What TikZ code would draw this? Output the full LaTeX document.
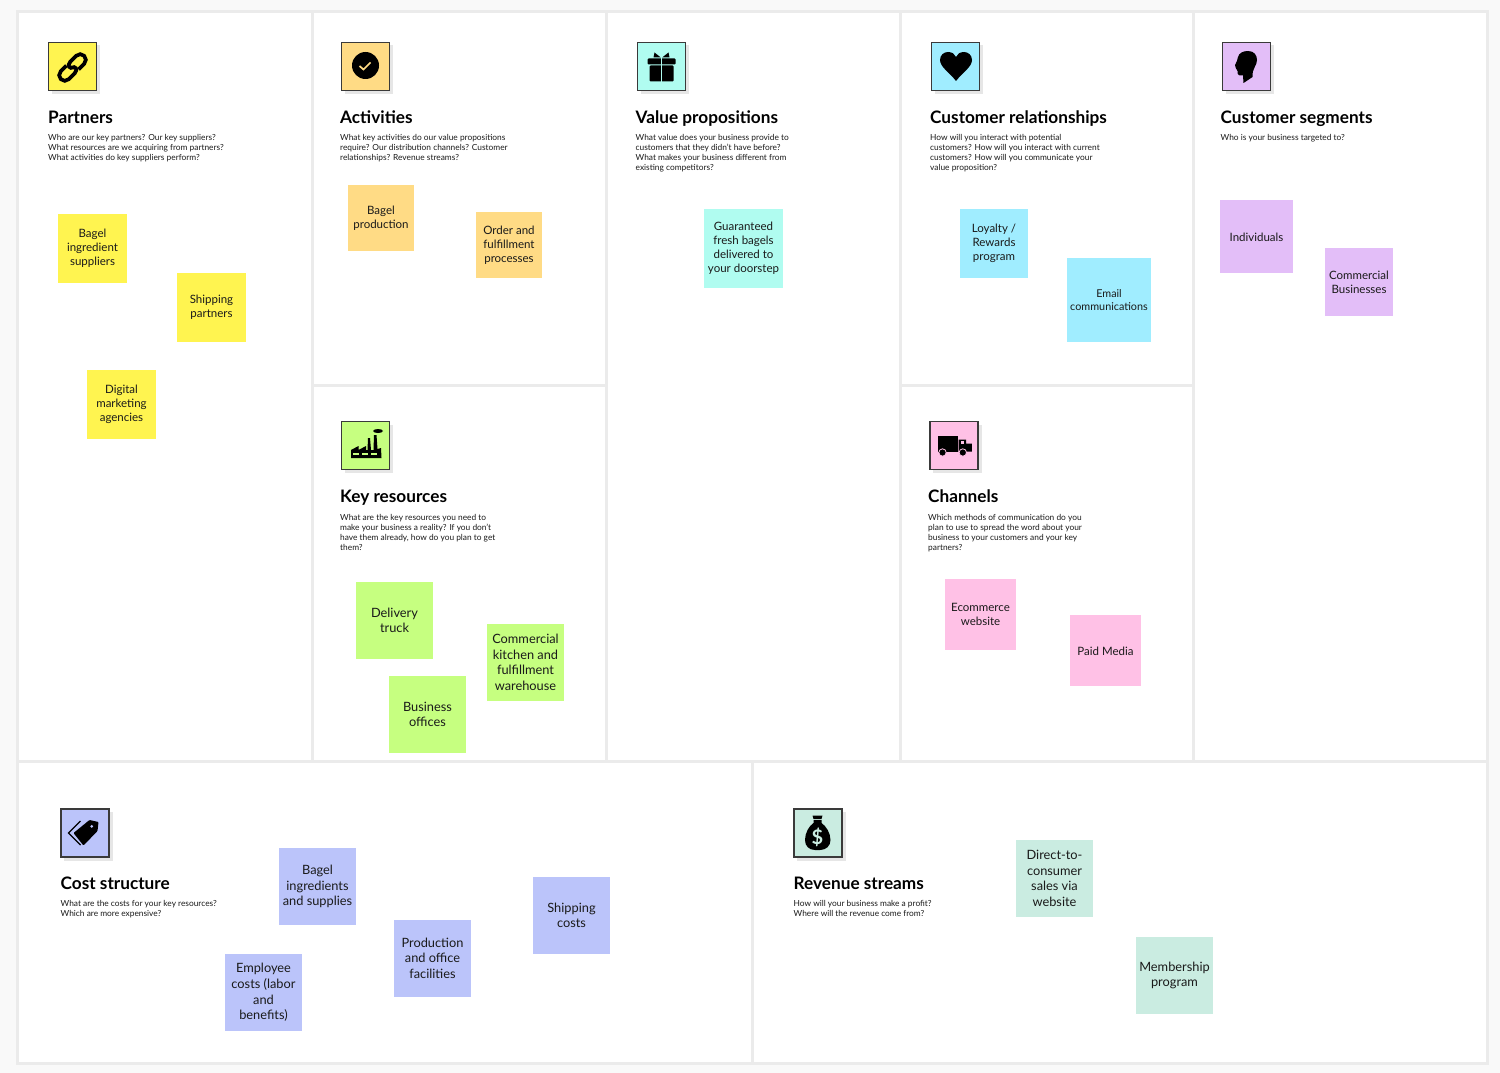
\documentclass[tikz,border=0pt]{standalone}
\usepackage{fontspec}
\setmainfont{Lato}
\definecolor{pagebg}{HTML}{F9F9F9}
\definecolor{panelline}{HTML}{EBEBEB}
\definecolor{iconline}{HTML}{3A3A3A}
\definecolor{iconshadow}{HTML}{E6E6E6}
\definecolor{inktext}{HTML}{1A1A1A}
\definecolor{partnercol}{HTML}{FFF450}
\definecolor{activitycol}{HTML}{FFDB85}
\definecolor{valuecol}{HTML}{B0FCF0}
\definecolor{relationcol}{HTML}{A0EDFF}
\definecolor{segmentcol}{HTML}{E3BEF8}
\definecolor{resourcecol}{HTML}{C6FF80}
\definecolor{channelcol}{HTML}{FFC1E6}
\definecolor{costcol}{HTML}{BBC4FA}
\definecolor{revenuecol}{HTML}{CAECE1}
\tikzset{
    cardtitle/.style={anchor=base west,inner sep=0pt,text=black,font=\fontsize{17.2}{20}\selectfont\bfseries},
    carddesc/.style={anchor=north west,inner sep=0pt,align=left,text=inktext,font=\fontsize{8.35}{10.1}\selectfont},
    sticky/.style={inner sep=0pt,align=center,text=inktext,minimum width=#1,minimum height=#1},
    iconbox/.style={draw=iconline,line width=1.2pt,minimum size=48pt,inner sep=0pt},
    smalltext/.style={font=\fontsize{11.5}{14}\selectfont,execute at begin node={\rule{0pt}{11.5pt}}},
    bigtext/.style={font=\fontsize{12.8}{15.6}\selectfont},
}
\begin{document}
\begin{tikzpicture}[x=1pt,y=-1pt]
    \useasboundingbox (0,0) rectangle (1500,1073);
    \fill[pagebg] (0,0) rectangle (1500,1073);

    % Panels
    \fill[white] (17,12) rectangle (1487,1063);
    \draw[panelline,line width=3pt] (17,12) rectangle (1487,1063);
    \foreach \xline in {312.5,606.5,900,1193.5} {
        \draw[panelline,line width=3pt] (\xline,12) -- (\xline,761);
    }
    \draw[panelline,line width=3pt] (17,761) -- (1487,761);
    \draw[panelline,line width=3pt] (752,761) -- (752,1063);
    \draw[panelline,line width=3pt] (312.5,385.5) -- (606.5,385.5);
    \draw[panelline,line width=3pt] (900,385.5) -- (1193.5,385.5);

    % Icon boxes
    \foreach \iname/\ix/\iy/\icol in {partnersicon/72.5/66.5/partnercol,activitiesicon/365.5/66.5/activitycol,
        valueicon/661.5/66.5/valuecol,relationsicon/955.5/66.5/relationcol,segmentsicon/1246.5/66.5/segmentcol,
        resourcesicon/365.5/445.5/resourcecol,channelsicon/954/445.5/channelcol,
        costicon/85/833/costcol,revenueicon/818/833/revenuecol} {
        \fill[iconshadow] (\ix-21,\iy-21) rectangle (\ix+27.5,\iy+27.5);
        \node[iconbox,fill=\icol] (\iname) at (\ix,\iy) {};
    }

    % Partners
    \foreach \turn in {45,225} {
        \draw[line width=3.7pt,rounded corners=5.5pt,shift={(72.5,67.5)},rotate=\turn]
            (-3,-5.6) -- (-16.5,-5.6) -- (-16.5,5.6) -- (-2,5.6);
        \draw[line width=3.7pt,shift={(72.5,67.5)},rotate=\turn]
            (-2.5,5.6) .. controls (3,5.6) and (3,0) .. (-0.5,0);
    }
    \node[cardtitle] (partnerstitle) at (48,123) {Partners};
    \node[carddesc] (partnersdesc) at (48,134) {Who are our key partners? Our key suppliers?\\What resources are we acquiring from partners?\\What activities do key suppliers perform?};
    \node[sticky=69pt,smalltext,fill=partnercol] (bagelsuppliers) at (92.5,248.5) {Bagel\\ingredient\\suppliers};
    \node[sticky=69pt,smalltext,fill=partnercol] (shipping) at (211.5,307.5) {Shipping\\partners};
    \node[sticky=69pt,smalltext,fill=partnercol] (marketing) at (121.5,404.5) {Digital\\marketing\\agencies};

    % Activities
    \fill (365.5,65.5) circle [radius=13.5];
    \draw[activitycol,line width=1.7pt] (359.5,66) -- (363.5,69.5) -- (370.5,62.5);
    \node[cardtitle] (activitiestitle) at (340,123) {Activities};
    \node[carddesc] (activitiesdesc) at (340,134) {What key activities do our value propositions\\require? Our distribution channels? Customer\\relationships? Revenue streams?};
    \node[sticky=66pt,smalltext,fill=activitycol] (production) at (381,218) {Bagel\\production};
    \node[sticky=66pt,smalltext,fill=activitycol] (orders) at (509,245) {Order and\\fulfillment\\processes};

    % Value propositions
    \fill[rounded corners=1pt] (647.5,58.5) rectangle (675.5,64.5);
    \fill[rounded corners=1pt] (649.5,65.5) rectangle (673.5,81.5);
    \fill[valuecol] (660.8,58) rectangle (662.2,82);
    \fill (660.8,57.5) -- (654.5,52.5) -- (653.5,57.5) -- cycle;
    \fill (662.2,57.5) -- (668.5,52.5) -- (669.5,57.5) -- cycle;
    \node[cardtitle] (valuetitle) at (635.5,123) {Value propositions};
    \node[carddesc] (valuedesc) at (635.5,134) {What value does your business provide to\\customers that they didn't have before?\\What makes your business different from\\existing competitors?};
    \node[sticky=79pt,smalltext,fill=valuecol] (fresh) at (743.5,248.5) {Guaranteed\\fresh bagels\\delivered to\\your doorstep};

    % Customer relationships
    \fill (956,81) .. controls (950,73) and (940,67) .. (940,60) .. controls (940,55) and (944,52) .. (948,52)
        .. controls (952,52) and (955,54) .. (956,57) .. controls (957,54) and (960,52) .. (964,52)
        .. controls (968,52) and (972,55) .. (972,60) .. controls (972,67) and (962,73) .. (956,81) -- cycle;
    \node[cardtitle] (relationstitle) at (930,123) {Customer relationships};
    \node[carddesc] (relationsdesc) at (930,134) {How will you interact with potential\\customers? How will you interact with current\\customers? How will you communicate your\\value proposition?};
    \node[sticky=68.5pt,smalltext,fill=relationcol] (loyalty) at (994,243.5) {Loyalty /\\Rewards\\program};
    \node[sticky=84pt,font=\fontsize{10.8}{13}\selectfont,fill=relationcol] (email) at (1109,300) {Email\\communications};

    % Customer segments
    \fill (1243.5,83) -- (1243,75.5) -- (1239.5,75.5) .. controls (1238,75) and (1237,73) .. (1237.5,71)
        .. controls (1236,69) and (1235,66.5) .. (1235,65) .. controls (1236.5,62.5) and (1237.5,60) .. (1238,57)
        .. controls (1239,53) and (1243,51) .. (1248,51) .. controls (1254,51) and (1257,55) .. (1257,60)
        .. controls (1257,66) and (1252,68) .. (1252.5,77) -- cycle;
    \node[cardtitle] (segmentstitle) at (1220.5,123) {Customer segments};
    \node[carddesc] (segmentsdesc) at (1220.5,134) {Who is your business targeted to?};
    \node[sticky=73pt,smalltext,fill=segmentcol] (individuals) at (1256.5,236) {Individuals};
    \node[sticky=68pt,smalltext,fill=segmentcol] (businesses) at (1359,282) {Commercial\\Businesses};

    % Key resources
    \fill (351,450) -- (358.5,446) -- (358.5,450) -- (366,446) -- (366,450) -- (367.5,450) -- (368,438) -- (370,438)
        -- (371,450) -- (373.5,450) -- (374,435) -- (376.5,435) -- (377.5,449) -- (381,448) -- (381.5,458) -- (351,458) -- cycle;
    \fill (378,431) ellipse [x radius=5, y radius=2];
    \foreach \wx in {353,362,371} {
        \fill[resourcecol] (\wx,452.5) rectangle (\wx+5.5,454.5);
    }
    \node[cardtitle] (resourcestitle) at (340,502.5) {Key resources};
    \node[carddesc] (resourcesdesc) at (340,514) {What are the key resources you need to\\make your business a reality? If you don't\\have them already, how do you plan to get\\them?};
    \node[sticky=77pt,bigtext,fill=resourcecol] (truck) at (394.5,620.5) {Delivery\\truck};
    \node[sticky=77pt,bigtext,fill=resourcecol] (kitchen) at (525.5,662.5) {Commercial\\kitchen and\\fulfillment\\warehouse};
    \node[sticky=77pt,bigtext,fill=resourcecol] (offices) at (427.5,714.5) {Business\\offices};

    % Channels
    \fill (937.5,436) rectangle (957.5,451.5);
    \fill (958.5,439.5) -- (966,439.5) -- (966,443.5) -- (971.8,443.5) -- (971.8,451.5) -- (958.5,451.5) -- cycle;
    \fill[channelcol] (961,441) rectangle (964,444);
    \filldraw[draw=channelcol,line width=0.8pt] (942.5,452.5) circle [radius=3.7];
    \filldraw[draw=channelcol,line width=0.8pt] (962.8,452.5) circle [radius=3.7];
    \node[cardtitle] (channelstitle) at (928,502.5) {Channels};
    \node[carddesc] (channelsdesc) at (928,514) {Which methods of communication do you\\plan to use to spread the word about your\\business to your customers and your key\\partners?};
    \node[sticky=71pt,smalltext,fill=channelcol] (ecommerce) at (980.5,614.5) {Ecommerce\\website};
    \node[sticky=71pt,smalltext,fill=channelcol] (paidmedia) at (1105.5,650) {Paid Media};

    % Cost structure
    \draw[line width=1.4pt] (80.5,821) -- (68.5,833) -- (80.5,845);
    \fill[rounded corners=0.8pt] (73.5,833) -- (89.5,820) -- (98.5,822) -- (97.5,831) -- (83.5,845.5) -- cycle;
    \fill[costcol] (91.7,826.3) circle [radius=1.5];
    \node[cardtitle] (costtitle) at (60.5,889.5) {Cost structure};
    \node[carddesc] (costdesc) at (60.5,900.5) {What are the costs for your key resources?\\Which are more expensive?};
    \node[sticky=77pt,bigtext,fill=costcol] (ingredients) at (317.5,886.5) {Bagel\\ingredients\\and supplies};
    \node[sticky=77pt,bigtext,fill=costcol] (facilities) at (432.5,958) {Production\\and office\\facilities};
    \node[sticky=77pt,bigtext,fill=costcol] (shippingcosts) at (571.5,915.5) {Shipping\\costs};
    \node[sticky=77pt,bigtext,fill=costcol] (employees) at (263.5,992.5) {Employee\\costs (labor\\and\\benefits)};

    % Revenue streams
    \fill (812.5,815.5) -- (822.5,815.5) -- (821.5,819) -- (813.5,819) -- cycle;
    \fill (813.5,820) -- (821.5,820) -- (821.5,823) .. controls (826,826) and (830.5,833) .. (830.5,840)
        .. controls (830.5,846) and (826,850) .. (820,850) -- (815,850) .. controls (809,850) and (805,846) .. (805,840)
        .. controls (805,833) and (809,826) .. (813.5,823) -- cycle;
    \node[text=revenuecol,inner sep=0pt,font=\fontsize{20}{20}\selectfont\bfseries] (dollarsign) at (817.5,837) {\$};
    \node[cardtitle] (revenuetitle) at (793.5,889.5) {Revenue streams};
    \node[carddesc] (revenuedesc) at (793.5,900.5) {How will your business make a profit?\\Where will the revenue come from?};
    \node[sticky=77pt,bigtext,fill=revenuecol] (direct) at (1054.5,878.5) {Direct-to-\\consumer\\sales via\\website};
    \node[sticky=77pt,bigtext,fill=revenuecol] (membership) at (1174.5,975.5) {Membership\\program};
\end{tikzpicture}
\end{document}
